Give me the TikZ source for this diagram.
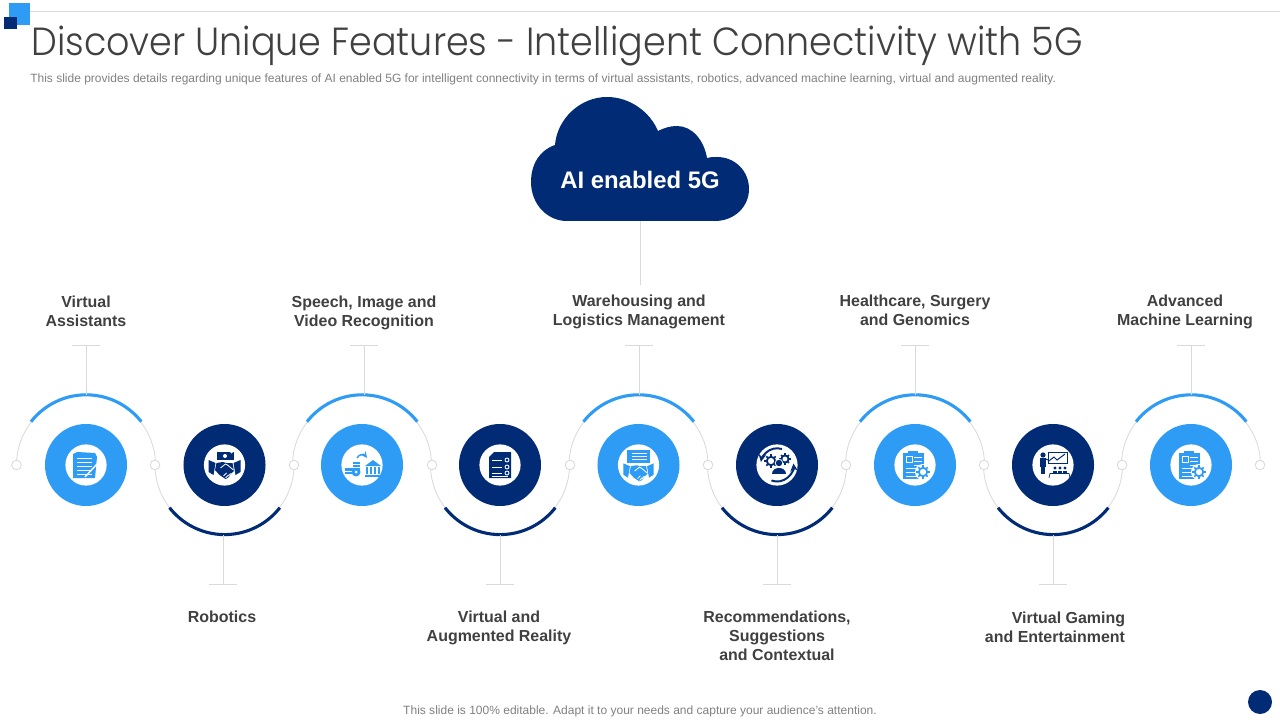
\documentclass[tikz,border=0pt]{standalone}
\usepackage{fontspec}
\setmainfont{Liberation Sans}
\newfontfamily\titlefont{Poppins Light}
\usepackage{tikz}
\usetikzlibrary{positioning, calc}
\definecolor{skyblue}{HTML}{2E9CF5}
\definecolor{navyblue}{HTML}{012B75}
\definecolor{railgray}{HTML}{DADADA}
\definecolor{textgray}{HTML}{404040}
\tikzset{
  gearmark/.pic={
    \foreach \a in {0,45,...,315}{
      \draw[pic actions, line width=1.1pt] (\a:4.4) -- (\a:6.6);
    }
    \draw[pic actions, line width=1.3pt] (0,0) circle (4.2);
  },
  handmark/.pic={
    % cuffs and clasped hands
    \fill[pic actions] (-16,-7) -- (-9,-4) -- (-11,8) -- (-16,5) -- cycle;
    \fill[pic actions] (16,-7) -- (9,-4) -- (11,8) -- (16,5) -- cycle;
    \fill[pic actions] (-8,-4) -- (-2,-5) -- (2,-4) -- (8,-4) -- (9.5,4) -- (6,7) -- (5,9) -- (3,11) -- (1,12) -- (-2,10) -- (-5,8) -- (-9.5,3) -- cycle;
    \draw[white, line width=0.6pt] (-4,1) -- (1,-3) -- (3,-2) -- (9,3);
    \draw[white, line width=0.6pt] (-1,9) -- (2,6);
    \draw[white, line width=0.6pt] (1,11) -- (4,8);
    \draw[white, line width=0.6pt] (4,9) -- (6,6.5);
  },
  clipmark/.pic={
    \fill[skyblue] (-12,-12) rectangle (9,14);
    \fill[skyblue] (-7,-14) rectangle (3,-10);
    \draw[white, line width=0.5pt] (-9,-9) rectangle (-3,-3);
    \foreach \y in {-8,-4,0}{
      \draw[white, line width=0.5pt] (-1,\y) -- (7,\y);
    }
    \foreach \y in {3,7,11}{
      \draw[white, line width=0.5pt] (-9,\y) -- (2,\y);
    }
    \fill[white] (8,7) circle (8);
    \pic[draw=skyblue] at (8,7) {gearmark};
  }
}
\begin{document}
\begin{tikzpicture}[
  x=0.025cm, y=-0.025cm,
  hub/.style={circle, minimum size=2.05cm, inner sep=0pt},
  hole/.style={circle, fill=white, minimum size=1.03cm, inner sep=0pt},
  rail/.style={draw=railgray, line width=0.6pt},
  stem/.style={draw=railgray, line width=0.6pt},
  knob/.style={circle, draw=railgray, fill=white, line width=0.6pt, minimum size=0.24cm, inner sep=0pt},
  lbl/.style={font=\fontsize{11.35}{13.5}\selectfont\bfseries, text=textgray, align=center, inner sep=0pt}
]
  \useasboundingbox (0,0) rectangle (1280,720);

  % Header
  \draw[railgray, line width=0.6pt] (30,11.5) -- (1280,11.5);
  \fill[skyblue] (9,3) rectangle (30,25);
  \fill[navyblue] (4,17) rectangle (17,29);
  \node[anchor=base west, inner sep=0pt, font=\titlefont\fontsize{27.9}{30}\selectfont, text=textgray] (title) at (31,56)
    {\scalebox{0.93}[1]{Discover Unique Features - Intelligent Connectivity with 5G}};
  \node[anchor=base west, inner sep=0pt, font=\fontsize{8.54}{10}\selectfont, text=black!50] (subtitle) at (30,83)
    {This slide provides details regarding unique features of AI  enabled 5G for intelligent connectivity in terms of virtual assistants, robotics, advanced machine learning, virtual and augmented reality.};

  % Cloud
  \fill[navyblue] (567,221) -- (715,221) .. controls (734,221) and (749,207) .. (749,189)
    .. controls (749,171) and (735,157) .. (717,157) .. controls (713,157) and (710,157) .. (707,158)
    .. controls (704,140) and (692,126) .. (677,126) .. controls (670,126) and (664,128) .. (658,131)
    .. controls (650,112) and (630,97) .. (607,97) .. controls (580,97) and (557,119) .. (555,145)
    .. controls (540,150) and (531,164) .. (531,182) .. controls (531,204) and (547,221) .. (567,221) -- cycle;
  \node[font=\fontsize{17}{20}\selectfont\bfseries, text=white, inner sep=0pt] (cloudtext) at (640,180) {AI enabled 5G};
  \coordinate (cloudfoot) at (640,221);
  \coordinate (cloudstem) at (640,285);
  \draw[stem] (cloudfoot) -- (cloudstem);

  % Rail of half circles, upper ones skyblue and lower ones navy
  \foreach \n/\x in {1/86, 3/362, 5/638.5, 7/915, 9/1191}{
    \draw[rail] (\x-69.5,465) arc[start angle=180, end angle=360, radius=69.5];
    \draw[skyblue, line width=2.2pt] (\x-55,421.7) arc[start angle=218, end angle=322, radius=70];
    \node[hub, fill=skyblue] (hub\n) at (\x,465) {};
    \node[hole] (hole\n) at (hub\n) {};
  }
  \foreach \n/\x in {2/224.5, 4/500, 6/777, 8/1053}{
    \draw[rail] (\x-69.5,465) arc[start angle=180, end angle=0, radius=69.5];
    \draw[navyblue, line width=2.2pt] (\x-55,507.7) arc[start angle=142, end angle=38, radius=70];
    \node[hub, fill=navyblue] (hub\n) at (\x,465) {};
    \node[hole] (hole\n) at (hub\n) {};
  }
  \foreach \x in {16.5,155,294,432,570,708,846,984,1122,1260}{
    \node[knob] at (\x,465) {};
  }

  % Stems with small bars, top row then bottom row
  \foreach \n/\x in {1/86, 3/364, 5/639, 7/915, 9/1191}{
    \coordinate (up\n) at (\x,395);
    \coordinate (bar\n) at (\x,345);
    \draw[stem] (up\n) -- (bar\n);
    \draw[stem] ($(bar\n)+(-14,0)$) -- ($(bar\n)+(14,0)$);
  }
  \foreach \n/\x in {2/223, 4/500, 6/777, 8/1053}{
    \coordinate (up\n) at (\x,535);
    \coordinate (bar\n) at (\x,584);
    \draw[stem] (up\n) -- (bar\n);
    \draw[stem] ($(bar\n)+(-14,0)$) -- ($(bar\n)+(14,0)$);
  }

  % Labels
  \node[lbl] (lab1) at (86,311.5) {Virtual\\Assistants};
  \node[lbl] (lab2) at (222,617) {Robotics};
  \node[lbl] (lab3) at (364,312.5) {Speech, Image and\\Video Recognition};
  \node[lbl] (lab4) at (499,628) {Virtual and\\Augmented Reality};
  \node[lbl] (lab5) at (639,312) {Warehousing and\\Logistics Management};
  \node[lbl] (lab6) at (777,636) {Recommendations,\\Suggestions\\and Contextual};
  \node[lbl] (lab7) at (915,310.5) {Healthcare, Surgery\\and Genomics};
  \node[lbl, align=right] (lab8) at (1055,627) {Virtual Gaming\\and Entertainment};
  \node[lbl] (lab9) at (1185,312) {Advanced\\Machine Learning};

  % Icon 1: sheet and pen
  \begin{scope}[shift={(hub1)}]
    \fill[skyblue] (-13,-11) -- (-9,-13) -- (9,-12) -- (11,-8) -- (9,13) -- (-13,13) -- cycle;
    \foreach \y in {-7,-3,1,5,9}{
      \draw[white, line width=0.6pt] (-9,\y) -- (6,\y);
    }
    \draw[white, line width=1pt] (-1,12) -- (12,-2);
  \end{scope}

  % Icon 2: handshake and banknote
  \begin{scope}[shift={(hub2)}]
    \fill[navyblue] (-8,-13) rectangle (9,-5);
    \fill[white] (0.5,-9) circle (2);
    \fill[white] (7,-13) circle (1.5);
    \pic[fill=navyblue] at (0,2) {handmark};
  \end{scope}

  % Icon 3: coins and bank
  \begin{scope}[shift={(hub3)}]
    \fill[skyblue] (3,1) -- (11,-5) -- (19,1) -- cycle;
    \foreach \x in {5.5,9.5,13.5,17.5}{
      \fill[skyblue] (\x-1.2,2) rectangle (\x+0.6,9);
    }
    \fill[skyblue] (3,9.5) rectangle (19,11.5);
    \draw[skyblue, line width=1pt, -stealth] (-5,-7) .. controls (-3,-11) and (2,-11) .. (5,-7);
    \foreach \y in {-3,0,3}{
      \fill[skyblue] (-9,\y) rectangle (-2,\y+2);
    }
    \foreach \y in {3,6.5}{
      \fill[skyblue] (-17,\y) rectangle (-9,\y+2.5);
    }
    \fill[skyblue] (-6,7) circle (4.5);
    \fill[white] (-6,7) circle (1.5);
  \end{scope}

  % Icon 4: checklist
  \begin{scope}[shift={(hub4)}]
    \fill[navyblue] (-6,-13) -- (11,-13) -- (11,13) -- (-11,13) -- (-11,-8) -- cycle;
    \foreach \y in {-5,2,8}{
      \draw[white, line width=0.5pt] (-8,\y) -- (2,\y);
      \draw[white, line width=0.6pt] (7,\y) circle (2);
    }
    \draw[white, line width=0.6pt] (-8,11.5) -- (8,11.5);
  \end{scope}

  % Icon 5: contract and handshake
  \begin{scope}[shift={(hub5)}]
    \fill[skyblue] (-12,-15) rectangle (11,-2);
    \foreach \y in {-12,-9,-6}{
      \draw[white, line width=0.5pt] (-7,\y) -- (8,\y);
    }
    \pic[fill=skyblue, scale=0.95] at (0,5) {handmark};
  \end{scope}

  % Icon 6: gears, person and turning arrows
  \begin{scope}[shift={(hub6)}]
    \pic[draw=navyblue] at (-6,-4) {gearmark};
    \pic[draw=navyblue, scale=0.85] at (8,-6) {gearmark};
    \fill[white] (2,-2) circle (4.2);
    \fill[navyblue] (2,-2) circle (3.2);
    \fill[navyblue] (-5,9) .. controls (-5,1) and (9,1) .. (9,9) -- cycle;
    \draw[navyblue, line width=1.4pt, -stealth] (5,-16) arc[start angle=287, end angle=190, radius=16.5];
    \draw[navyblue, line width=1.4pt, -stealth] (-5.6,15.5) arc[start angle=110, end angle=-5, radius=16.5];
  \end{scope}

  % Icon 7: clipboard and gear
  \pic at (hub7) {clipmark};

  % Icon 8: presenter, chart and audience
  \begin{scope}[shift={(hub8)}]
    \fill[navyblue] (-10,-10) circle (2.6);
    \fill[navyblue] (-13,-7) rectangle (-7,2);
    \fill[navyblue] (-12,2) rectangle (-8,9);
    \draw[navyblue, line width=0.7pt] (-7,-6) -- (-3,-4);
    \draw[navyblue, line width=0.7pt] (-5,-13) rectangle (14,-2);
    \draw[navyblue, line width=0.7pt] (-3,-5) -- (1,-8) -- (4,-5) -- (8,-8) -- (12,-11);
    \foreach \x in {2,7,12}{
      \fill[navyblue] (\x,3) circle (1.7);
      \fill[navyblue] (\x-2.2,8) -- (\x-2.2,5.5) -- (\x+2.2,5.5) -- (\x+2.2,8) -- cycle;
    }
    \draw[navyblue, line width=0.5pt] (-4,13) -- (-3,8.5) -- (16,8.5) -- (17,13);
  \end{scope}

  % Icon 9: clipboard and gear
  \pic at (hub9) {clipmark};

  % Footer
  \node[anchor=base, inner sep=0pt, font=\fontsize{8.54}{10}\selectfont, text=black!50] (footer) at (640,714)
    {This slide is 100\% editable. Adapt it to your needs and capture your audience's attention.};
  \node[circle, fill=navyblue, minimum size=0.6cm, inner sep=0pt] (corner) at (1260,702) {};
\end{tikzpicture}
\end{document}
